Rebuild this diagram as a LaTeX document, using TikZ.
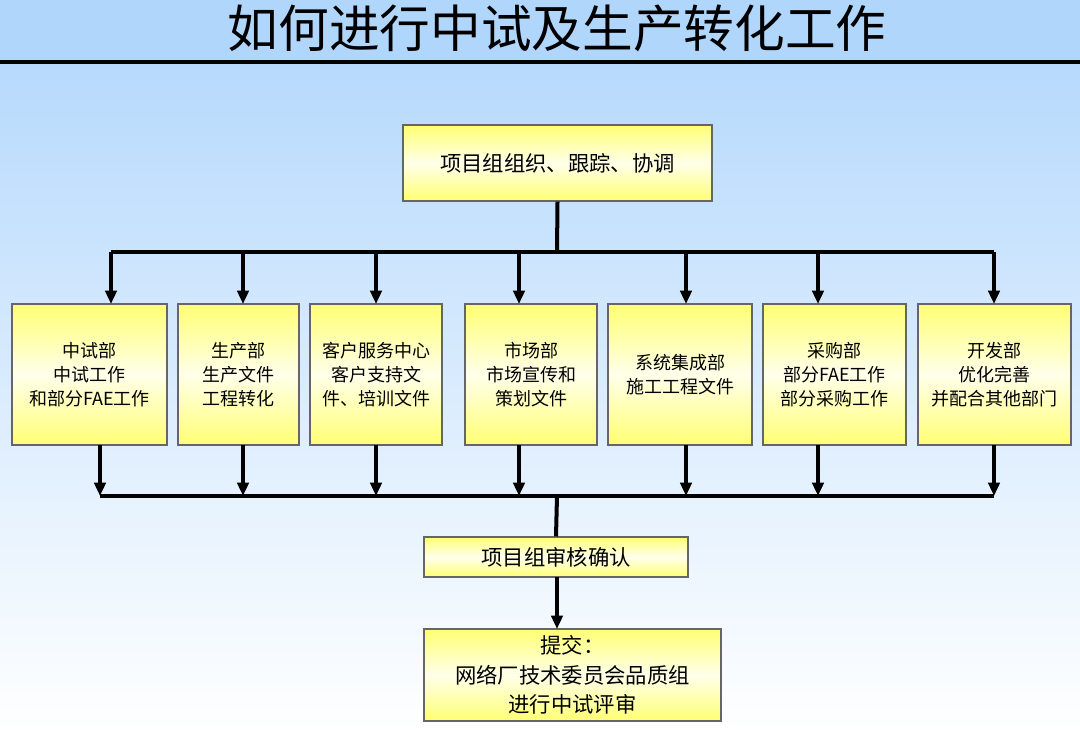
\documentclass[tikz,border=0pt]{standalone}
\usepackage{fontspec}
\newfontfamily\cjk{Noto Sans CJK SC}
\usetikzlibrary{arrows.meta}
\definecolor{bgtop}{RGB}{176,214,252}
\begin{document}
\begin{tikzpicture}[x=0.75pt,y=-0.75pt,
 box/.style={draw=gray!80!black,line width=0.8pt,top color=yellow!55,bottom color=yellow!55,middle color=yellow!8,align=center,font=\cjk\fontsize{13.5}{18}\selectfont,inner sep=0pt},
 ln/.style={line width=3pt},
 ar/.style={line width=3pt,-{Triangle[length=10pt,width=8.5pt]}}]
\useasboundingbox (0,0) rectangle (1080,734);
\shade[top color=bgtop,bottom color=white] (0,0) rectangle (1080,734);
\fill[bgtop] (0,0) rectangle (1080,62);
\draw[line width=3pt] (0,62) -- (1080,62);
\node[font=\cjk\fontsize{38}{40}\selectfont] (title) at (557,28) {如何进行中试及生产转化工作};
\node[box,minimum width=309*0.75pt,minimum height=76*0.75pt,font=\cjk\fontsize{16}{20}\selectfont] (top) at (557.5,163) {项目组组织、跟踪、协调};
\foreach \n/\a/\b/\xi/\xo/\t in {
 b1/12/167/111/100/{中试部\\中试工作\\和部分FAE工作},
 b2/178/299/243/243/{生产部\\生产文件\\工程转化},
 b3/310/442/376/376/{客户服务中心\\客户支持文\\件、培训文件},
 b4/465/597/519/519/{市场部\\市场宣传和\\策划文件},
 b5/608/752/686/686/{系统集成部\\施工工程文件},
 b6/763/906/818/818/{采购部\\部分FAE工作\\部分采购工作},
 b7/918/1071/994/994/{开发部\\优化完善\\并配合其他部门}}{
 \node[box,minimum width={(\b-\a)*0.75pt},minimum height=141*0.75pt] (\n) at ({(\a+\b)/2},374.5) {\t};
 \coordinate (\n i) at (\xi,252);
 \coordinate (\n o) at (\xo,496);
 \draw[ar] (\n i) -- (\xi,304);
 \draw[ar] (\xo,445) -- (\n o);
}
\coordinate (hi) at (557,252);
\coordinate (ho) at (557,496);
\draw[ln] (top.south) -- (hi);
\draw[ln] (b1i) -- (b7i);
\draw[ln] (b1o) -- (b7o);
\node[box,minimum width=264*0.75pt,minimum height=40*0.75pt,font=\cjk\fontsize{16}{20}\selectfont] (rev) at (556,557) {项目组审核确认};
\draw[ln] (ho) -- (rev.north);
\node[box,minimum width=297*0.75pt,minimum height=92*0.75pt,font=\cjk\fontsize{16}{22}\selectfont] (sub) at (572.5,675) {提交：\\网络厂技术委员会品质组\\进行中试评审};
\draw[ar] (557,577) -- (557,629);
\end{tikzpicture}
\end{document}
